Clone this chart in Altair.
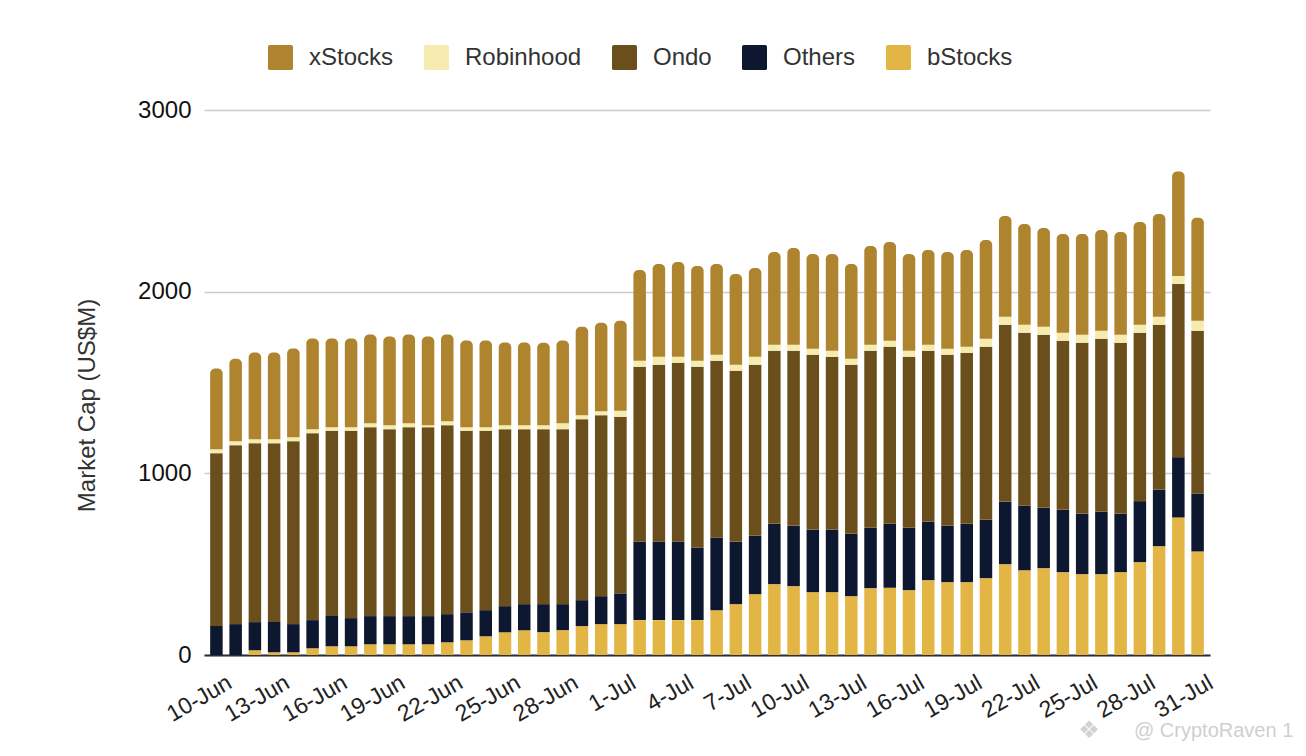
import altair as alt
import pandas as pd

june = ["%d-Jun" % d for d in range(10, 31)]
july = ["%d-Jul" % d for d in range(1, 32)]
dates = june + july
tick_dates = dates[::3]

names = ["xStocks", "Robinhood", "Ondo", "Others", "bStocks"]
colors = ["#AE852E", "#F6EBAE", "#6A4F1D", "#0E1730", "#E3B545"]

# cumulative upper edge of each band
b_top = [0, 0, 26, 15, 15, 37, 48, 48, 59, 59, 59, 59, 70, 81, 103, 125, 136, 126, 137, 159, 170, 170,
         192, 192, 192, 192, 247, 280, 335, 390, 379, 346, 346, 324, 368, 370, 357, 412, 401, 401, 423,
         500, 467, 478, 456, 445, 445, 456, 511, 599, 757, 570]
others_top = [160, 170, 181, 181, 170, 192, 214, 203, 214, 214, 214, 214, 225, 235, 247, 269, 280, 280, 280, 302, 324, 339,
              623, 623, 623, 590, 645, 623, 656, 722, 711, 689, 689, 667, 700, 722, 700, 733, 711, 722, 744,
              843, 821, 810, 799, 777, 788, 777, 847, 909, 1089, 889]
ondo_top = [1111, 1155, 1166, 1166, 1177, 1221, 1234, 1234, 1254, 1243, 1254, 1254, 1265, 1234, 1234, 1243, 1243, 1243, 1243, 1298, 1320, 1311,
            1587, 1598, 1609, 1587, 1620, 1565, 1598, 1675, 1675, 1653, 1642, 1598, 1675, 1697, 1642, 1675, 1653, 1664, 1697,
            1818, 1774, 1763, 1730, 1719, 1741, 1719, 1774, 1818, 2042, 1785]
rob_top = [1133, 1177, 1188, 1188, 1199, 1243, 1254, 1254, 1276, 1265, 1276, 1265, 1287, 1254, 1254, 1265, 1265, 1265, 1276, 1320, 1342, 1345,
           1620, 1642, 1642, 1620, 1653, 1598, 1642, 1708, 1708, 1686, 1675, 1631, 1708, 1730, 1675, 1708, 1686, 1697, 1741,
           1862, 1818, 1807, 1774, 1763, 1785, 1763, 1818, 1862, 2086, 1840]
x_top = [1577, 1631, 1665, 1665, 1687, 1742, 1742, 1742, 1764, 1753, 1764, 1753, 1764, 1731, 1731, 1720, 1720, 1719, 1731, 1807, 1829, 1840,
         2119, 2152, 2163, 2141, 2152, 2097, 2130, 2218, 2240, 2207, 2207, 2152, 2251, 2273, 2207, 2229, 2218, 2229, 2284,
         2416, 2372, 2350, 2317, 2317, 2339, 2328, 2383, 2427, 2662, 2407]

rows = []
for i, d in enumerate(dates):
    edges = [("bStocks", 0, b_top[i]), ("Others", b_top[i], others_top[i]), ("Ondo", others_top[i], ondo_top[i]),
             ("Robinhood", ondo_top[i], rob_top[i]), ("xStocks", rob_top[i], x_top[i])]
    for n, lo, hi in edges:
        rows.append({"date": d, "series": n, "lo": lo, "hi": hi})
df = pd.DataFrame(rows)

FONT = "Liberation Sans"
x_enc = alt.X("date:N", sort=dates, title=None,
              scale=alt.Scale(domain=dates, paddingInner=0.35, paddingOuter=0.32),
              axis=alt.Axis(values=tick_dates, labelAngle=-30, labelFont=FONT, labelFontSize=23,
                            labelColor="#222222", tickSize=0, domainColor="#2b2f3a", domainWidth=2,
                            labelPadding=16, labelOffset=8, labelOverlap=False, grid=False))
y_enc = alt.Y("lo:Q", title="Market Cap (US$M)",
              scale=alt.Scale(domain=[0, 3000], nice=False),
              axis=alt.Axis(values=[0, 1000, 2000, 3000], format="d", labelFont=FONT, labelFontSize=24,
                            labelColor="#111111", labelPadding=13, tickSize=0, domain=False,
                            gridColor="#CCCCCC", gridWidth=1.5,
                            titleFont=FONT, titleFontSize=24, titleFontWeight="normal", titleColor="#333333",
                            titleX=-105, titleY=295))
rounded = "M-0.85,-1H0.85Q1,-1 1,-0.85V0.85Q1,1 0.85,1H-0.85Q-1,1 -1,0.85V-0.85Q-1,-1 -0.85,-1Z"
color_enc = alt.Color("series:N", scale=alt.Scale(domain=names, range=colors),
                      legend=alt.Legend(title=None, orient="none", direction="horizontal", columns=5,
                                        legendX=64, legendY=-65, symbolType=rounded, symbolSize=625,
                                        symbolStrokeWidth=0, labelFont=FONT, labelFontSize=24, labelColor="#333333",
                                        labelOffset=16, columnPadding=30, labelLimit=200))

lower = alt.Chart(df).transform_filter(alt.datum.series != "xStocks").mark_bar().encode(
    x=x_enc, y=y_enc, y2="hi:Q", color=color_enc)
upper = alt.Chart(df).transform_filter(alt.datum.series == "xStocks").mark_bar(
    cornerRadiusTopLeft=5, cornerRadiusTopRight=5).encode(
    x=x_enc, y=y_enc, y2="hi:Q", color=color_enc)
mark_icon = alt.Chart(pd.DataFrame({"t": ["❖"]})).mark_text(
    align="center", baseline="middle", font="DejaVu Sans", fontSize=24, color="#D2D2D2").encode(
    text="t:N", x=alt.value(885), y=alt.value(621))
mark_text = alt.Chart(pd.DataFrame({"t": ["@ CryptoRaven 1"]})).mark_text(
    align="left", baseline="middle", font=FONT, fontSize=20, color="#CFCFCF").encode(
    text="t:N", x=alt.value(930), y=alt.value(621))

chart = alt.layer(lower, upper, mark_icon, mark_text).properties(
    width=1006, height=545,
    autosize=alt.AutoSizeParams(type="none"),
    padding={"left": 196, "top": 102, "right": 88, "bottom": 92},
    background="white",
).configure_view(stroke=None)

chart.save("out.html", embed_options={"renderer": "svg", "actions": False})
